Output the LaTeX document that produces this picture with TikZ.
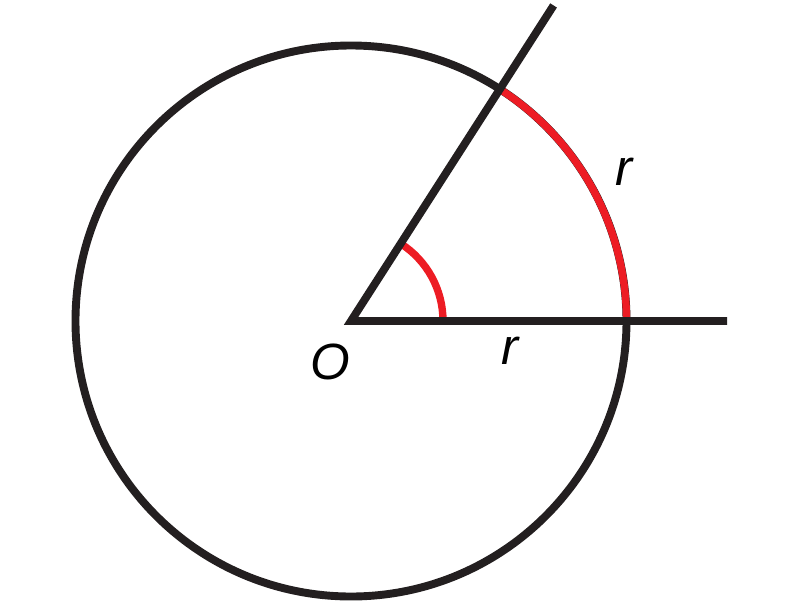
\documentclass[tikz,border=0pt]{standalone}
\usepackage{fontspec}
\setmainfont{Liberation Sans}
\usepackage{xcolor}
\usepackage{tikz}
\definecolor{inkblack}{HTML}{231F20}
\definecolor{inkred}{HTML}{ED1C24}
\tikzset{
  blackline/.style={draw=inkblack,line width=4.5pt},
  redline/.style={draw=inkred,line width=4.2pt},
  lbl/.style={font=\fontsize{29}{34}\selectfont\itshape,text=black,inner sep=0pt}
}
\begin{document}
\begin{tikzpicture}
    \useasboundingbox (-7.02,-5.58) rectangle (8.98,6.42);
    % centre and ray ends
    \coordinate (O) at (0,0);
    \coordinate (Rend) at (7.52,0);
    \coordinate (Aend) at (57.3:7.5);
    % circle
    \draw[blackline] (O) circle (5.51);
    % arc of length r and angle mark
    \draw[redline] (5.51,0) arc (0:57.3:5.51);
    \draw[redline] (1.84,0) arc (0:57.3:1.84);
    % the two rays
    \draw[blackline,miter limit=10] (Aend) -- (O) -- (Rend);
    % labels
    \node[lbl] (labO) at (-0.42,-0.82) {O};
    \node[lbl] (labR) at (3.18,-0.6) {r};
    \node[lbl] (labArc) at (5.46,2.98) {r};
\end{tikzpicture}
\end{document}
